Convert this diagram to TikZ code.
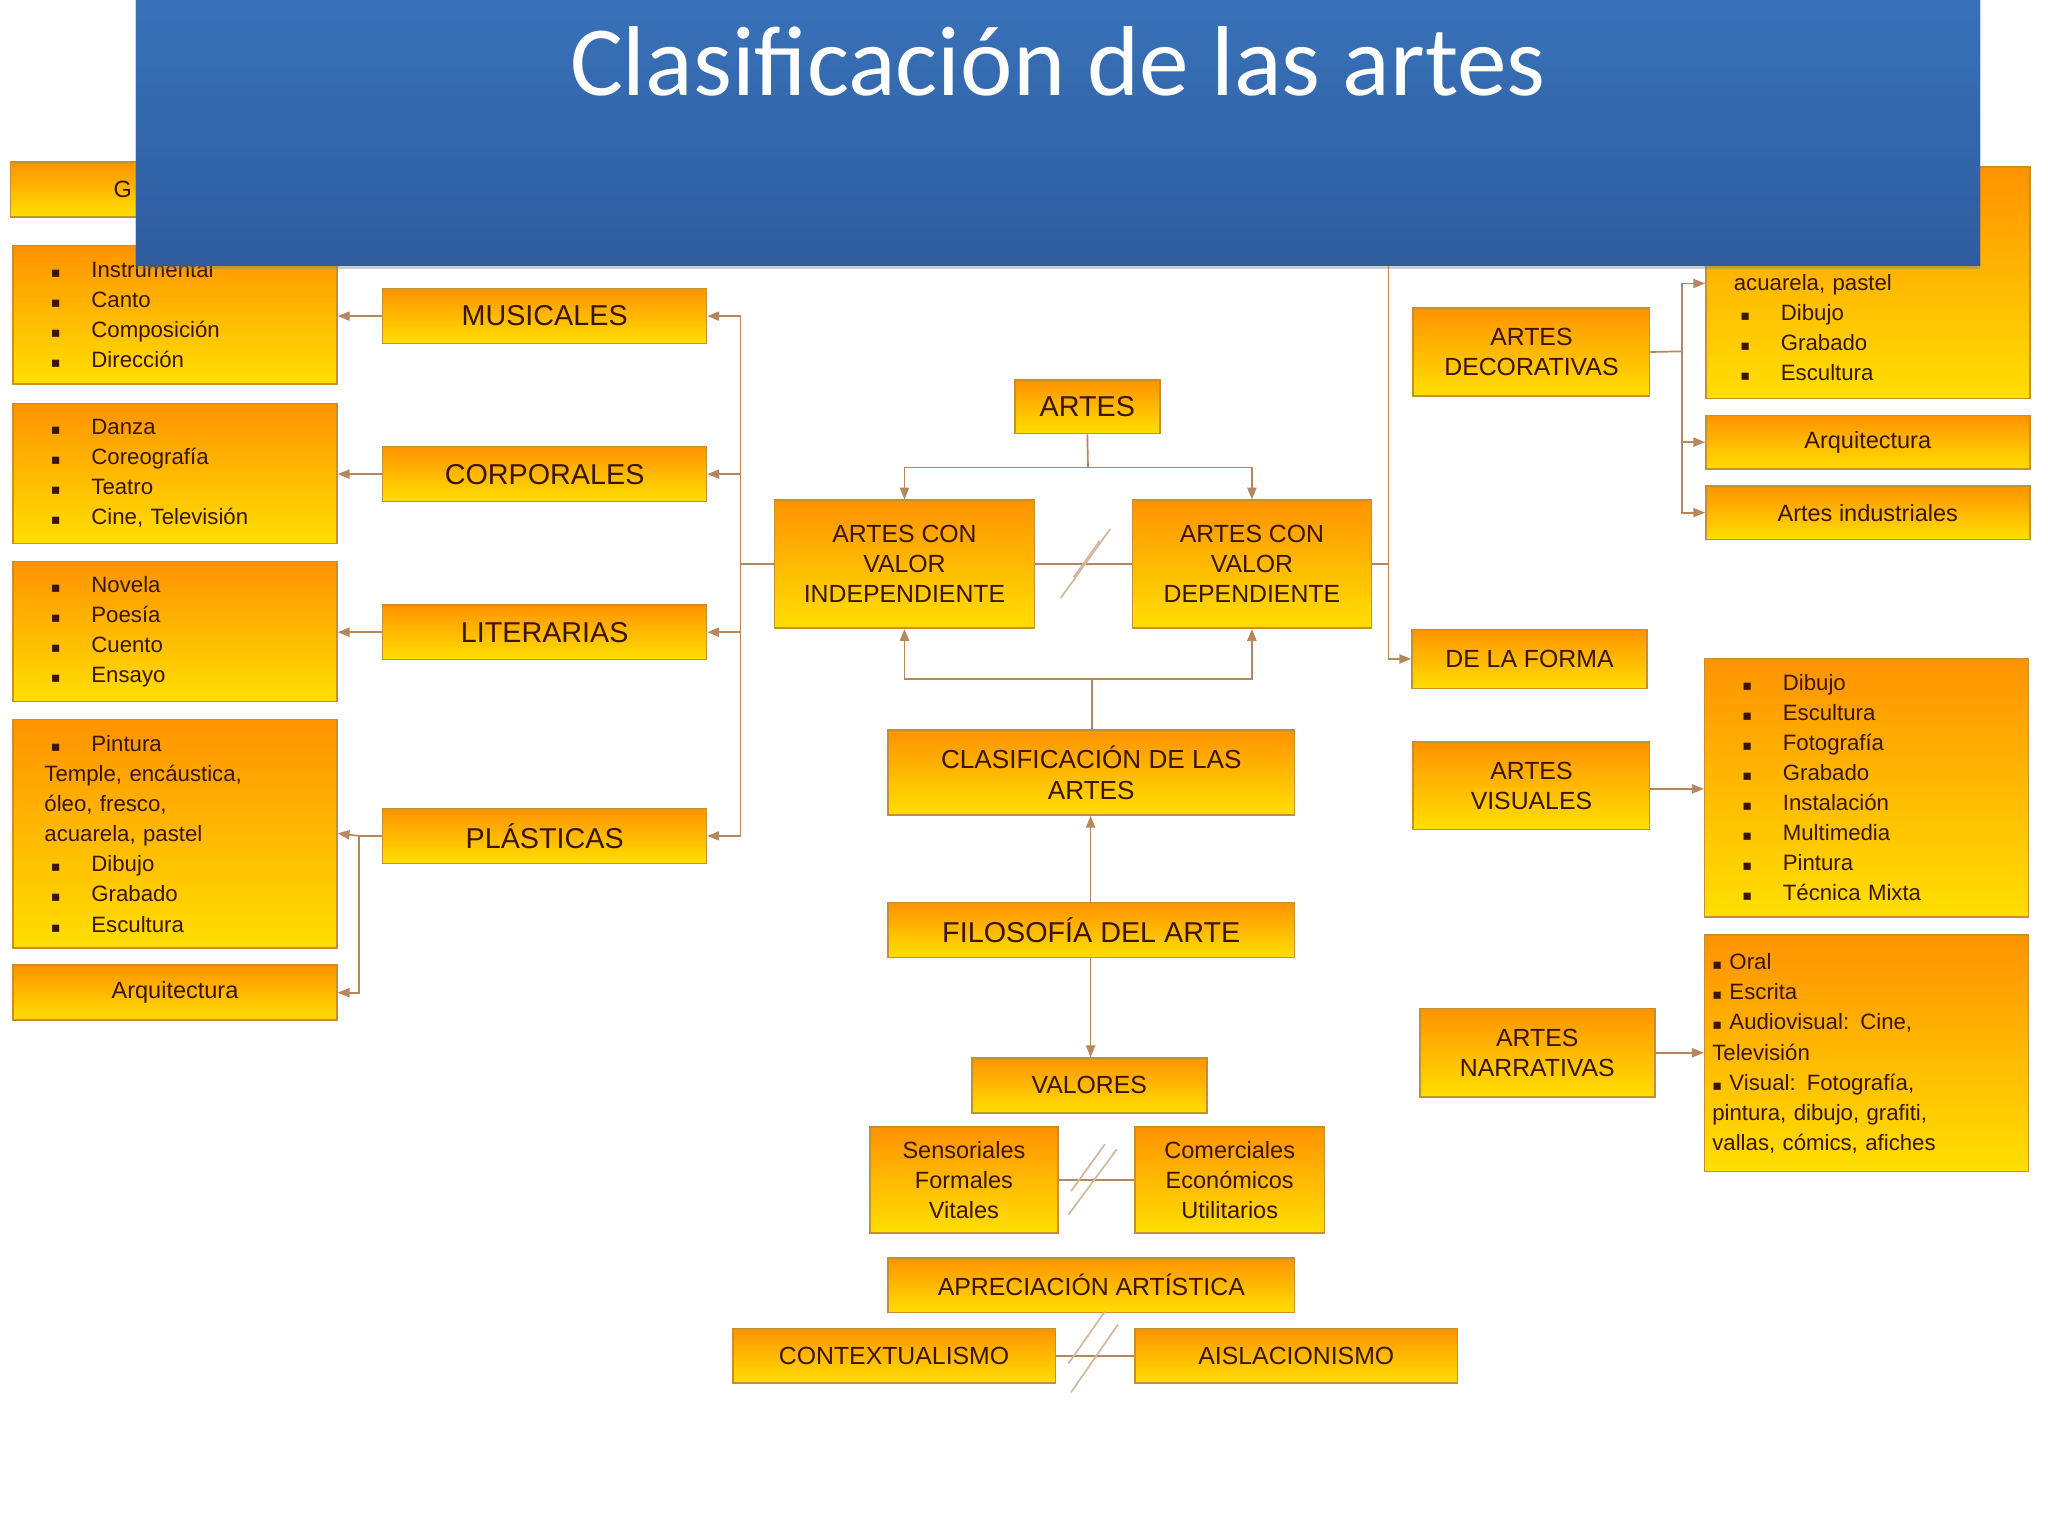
\documentclass[tikz,border=0pt]{standalone}
\usepackage{fontspec}
\setmainfont{Liberation Sans}
\newfontfamily\titlefont{Carlito}
\newfontfamily\sym{DejaVu Sans}
\usetikzlibrary{arrows.meta,shadows}
\definecolor{bord}{HTML}{C8902A}
\definecolor{conn}{HTML}{B5875A}
\definecolor{txt}{HTML}{3A1500}
\tikzset{
 box/.style={draw=bord,line width=1.2pt,top color=orange!85!yellow,bottom color=yellow!75!orange,inner sep=0pt,text=txt,font=\fontsize{18}{21}\selectfont},
 cn/.style={draw=conn,line width=1.3pt},
 ar/.style={cn,-{Triangle[length=9pt,width=7pt]}},
 sl/.style={draw=conn!60,line width=1.3pt},
}
\newcommand\bx[7]{\node[box,minimum width={(#4-#2)*1pt},minimum height={(#5-#3)*1pt},#6] (#1) at ({(#2+#4)/2},{(#3+#5)/2}) {#7};}
\newcommand\bu{\makebox[31pt][l]{\sym\fontsize{11}{12}\selectfont ▪}}
\begin{document}
\begin{tikzpicture}[x=1pt,y=-1pt]
\useasboundingbox (0,0) rectangle (1568,1176);
\fill[white] (0,0) rectangle (1568,1176);
% left column
\bx{g}{8}{124}{300}{166}{}{\hspace*{-120pt}G}
\bx{l1}{10}{188}{258}{294}{align=left,text width=190pt,font=\fontsize{17}{23}\selectfont}{\bu Instrumental\\\bu Canto\\\bu Composición\\\bu Dirección}
\bx{l2}{10}{309}{258}{416}{align=left,text width=190pt,font=\fontsize{17}{23}\selectfont}{\bu Danza\\\bu Coreografía\\\bu Teatro\\\bu Cine, Televisión}
\bx{l3}{10}{430}{258}{537}{align=left,text width=190pt,font=\fontsize{17}{23}\selectfont}{\bu Novela\\\bu Poesía\\\bu Cuento\\\bu Ensayo}
\bx{l4}{10}{551}{258}{726}{align=left,text width=190pt,font=\fontsize{17}{23}\selectfont}{\bu Pintura\\\hspace*{-5pt}Temple, encáustica,\\\hspace*{-5pt}óleo, fresco,\\\hspace*{-5pt}acuarela, pastel\\\bu Dibujo\\\bu Grabado\\\bu Escultura}
\bx{l5}{10}{739}{258}{781}{}{Arquitectura}
\bx{mus}{293}{221}{541}{263}{font=\fontsize{22}{24}\selectfont}{MUSICALES}
\bx{cor}{293}{342}{541}{384}{font=\fontsize{22}{24}\selectfont}{CORPORALES}
\bx{lit}{293}{463}{541}{505}{font=\fontsize{22}{24}\selectfont}{LITERARIAS}
\bx{pla}{293}{619}{541}{661}{font=\fontsize{22}{24}\selectfont}{PLÁSTICAS}
% center
\bx{artes}{777}{291}{888}{332}{font=\fontsize{22}{24}\selectfont}{ARTES}
\bx{ind}{593}{383}{792}{481}{align=center,font=\fontsize{19}{23}\selectfont}{ARTES CON\\VALOR\\INDEPENDIENTE}
\bx{dep}{867}{383}{1050}{481}{align=center,font=\fontsize{19}{23}\selectfont}{ARTES CON\\VALOR\\DEPENDIENTE}
\bx{cla}{680}{559}{991}{624}{align=center,font=\fontsize{20}{24}\selectfont}{CLASIFICACIÓN DE LAS\\ARTES}
\bx{fil}{680}{691}{991}{733}{font=\fontsize{22}{24}\selectfont}{FILOSOFÍA DEL ARTE}
\bx{val}{744}{810}{924}{852}{font=\fontsize{19}{22}\selectfont}{VALORES}
\bx{sen}{666}{863}{810}{944}{align=center,font=\fontsize{18}{23}\selectfont}{Sensoriales\\Formales\\Vitales}
\bx{com}{869}{863}{1014}{944}{align=center,font=\fontsize{18}{23}\selectfont}{Comerciales\\Económicos\\Utilitarios}
\bx{apr}{680}{963}{991}{1005}{font=\fontsize{19}{22}\selectfont}{APRECIACIÓN ARTÍSTICA}
\bx{ctx}{561}{1017}{808}{1059}{font=\fontsize{19}{22}\selectfont}{CONTEXTUALISMO}
\bx{ais}{869}{1017}{1116}{1059}{font=\fontsize{19}{22}\selectfont}{AISLACIONISMO}
% right
\bx{r1}{1306}{128}{1554}{305}{align=left,text width=195pt,font=\fontsize{17}{23}\selectfont}{\bu Pintura\\\hspace*{-5pt}Temple, encáustica,\\\hspace*{-5pt}óleo, fresco,\\\hspace*{-5pt}acuarela, pastel\\\bu Dibujo\\\bu Grabado\\\bu Escultura}
\bx{r2}{1306}{318}{1554}{359}{}{Arquitectura}
\bx{r3}{1306}{372}{1554}{413}{}{Artes industriales}
\bx{dec}{1082}{236}{1263}{303}{align=center,font=\fontsize{19}{23}\selectfont}{ARTES\\DECORATIVAS}
\bx{for}{1081}{482}{1261}{527}{font=\fontsize{19}{22}\selectfont}{DE LA FORMA}
\bx{vis}{1082}{568}{1263}{635}{align=center,font=\fontsize{19}{23}\selectfont}{ARTES\\VISUALES}
\bx{vl}{1305}{504}{1553}{702}{align=left,text width=190pt,font=\fontsize{17}{23}\selectfont}{\bu Dibujo\\\bu Escultura\\\bu Fotografía\\\bu Grabado\\\bu Instalación\\\bu Multimedia\\\bu Pintura\\\bu Técnica Mixta}
\bx{nar}{1087}{772}{1267}{840}{align=center,font=\fontsize{19}{23}\selectfont}{ARTES\\NARRATIVAS}
\bx{nl}{1305}{716}{1553}{897}{align=left,text width=236pt,font=\fontsize{17}{23}\selectfont}{{\sym\fontsize{11}{12}\selectfont ▪} Oral\\{\sym\fontsize{11}{12}\selectfont ▪} Escrita\\{\sym\fontsize{11}{12}\selectfont ▪} Audiovisual: Cine,\\Televisión\\{\sym\fontsize{11}{12}\selectfont ▪} Visual: Fotografía,\\pintura, dibujo, grafiti,\\vallas, cómics, afiches}
% connectors left
\coordinate (lv) at (567,432);
\draw[cn] (ind.west) -- (lv);
\draw[ar] (567,432) |- (mus.east);
\draw[ar] (567,432) |- (cor.east);
\draw[ar] (567,432) -- (567,484) -- (lit.east);
\draw[ar] (567,432) |- (pla.east);
\draw[ar] (mus.west) -- (l1.east|-mus.west);
\draw[ar] (cor.west) -- (l2.east|-cor.west);
\draw[ar] (lit.west) -- (l3.east|-lit.west);
\draw[cn] (pla.west) -- (275,640);
\draw[ar] (275,640) -- (l4.east|-275,638);
\draw[ar] (275,640) |- (l5.east);
% center
\coordinate (ab) at (833,358);
\draw[cn] (artes.south) -- (ab);
\draw[ar] (ab) -| (ind.north);
\draw[ar] (ab) -| (dep.north);
\draw[cn] (ind.east) -- (dep.west);
\draw[sl] (812,458) -- (850,405);
\draw[sl] (822,442) -- (842,414);
\coordinate (cb) at (836,520);
\draw[cn] (cla.north-|cb) -- (cb);
\draw[ar] (cb) -| (ind.south);
\draw[ar] (cb) -| (dep.south);
\draw[ar] (fil.north-|835,0) -- (cla.south-|835,0);
\draw[ar] (fil.south-|835,0) -- (val.north-|835,0);
\draw[cn] (sen.east) -- (com.west);
\draw[sl] (818,930) -- (855,880);
\draw[sl] (820,912) -- (846,876);
\draw[cn] (ctx.east) -- (ais.west);
\draw[sl] (820,1066) -- (856,1014);
\draw[sl] (818,1044) -- (846,1004);
% right
\coordinate (rv) at (1063,432);
\draw[cn] (dep.east) -- (rv);
\draw[cn] (rv) -- (1063,150);
\draw[ar] (rv) |- (for.west);
\draw[cn] (dec.east) -- (1288,269);
\draw[ar] (1288,269) |- (r1.west|-1288,217);
\draw[ar] (1288,269) |- (r2.west);
\draw[ar] (1288,269) |- (r3.west);
\draw[ar] (vis.east|-1263,604) -- (vl.west|-1263,604);
\draw[ar] (nar.east|-1267,806) -- (nl.west|-1267,806);
% banner
\node[draw=none,top color=blue!45!black!60!cyan,bottom color=blue!40!black!70!cyan,
 fill=blue,minimum width=1412pt,minimum height=203pt,inner sep=0pt,
 drop shadow={shadow xshift=0pt,shadow yshift=-3pt,opacity=.4}] (ban) at (810,101.5) {};
\fill[top color={rgb,255:red,56;green,113;blue,184},bottom color={rgb,255:red,46;green,92;blue,158}] (104,0) rectangle (1516,203);
\node[text=white,font=\titlefont\fontsize{76}{80}\selectfont,anchor=base] (title) at (810,73) {Clasificación de las artes};
\end{tikzpicture}
\end{document}
